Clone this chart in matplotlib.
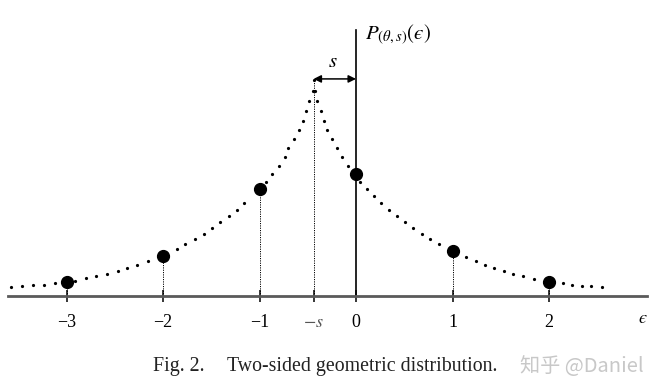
import matplotlib
matplotlib.use("Agg")
import matplotlib.pyplot as plt
import numpy as np

# ---- data ----
eps_int = [-3, -2, -1, 0, 1, 2]
p_int = [0.065, 0.187, 0.494, 0.565, 0.208, 0.066]
s_shift = 0.44
p_peak = 1.0

curve_x = [-3.575, -3.46, -3.35, -3.23, -3.12,
           -2.91, -2.80, -2.69, -2.58, -2.47, -2.37, -2.27, -2.16,
           -1.86, -1.77, -1.67, -1.58, -1.49, -1.41, -1.32, -1.23, -1.16,
           -0.93, -0.87, -0.80, -0.74, -0.70, -0.64, -0.59, -0.55, -0.52, -0.49,
           -0.45, -0.43, -0.44,
           -0.40, -0.36, -0.33, -0.30, -0.25, -0.20, -0.145, -0.085,
           0.044, 0.113, 0.188, 0.263, 0.345, 0.427, 0.505, 0.594, 0.683, 0.771, 0.86,
           1.14, 1.24, 1.34, 1.43, 1.53, 1.63, 1.73, 1.84,
           2.14, 2.24, 2.34, 2.44, 2.55]
curve_y = [0.043, 0.046, 0.049, 0.052, 0.059,
           0.071, 0.082, 0.091, 0.102, 0.116, 0.130, 0.145, 0.162,
           0.219, 0.241, 0.263, 0.287, 0.313, 0.341, 0.369, 0.398, 0.429,
           0.529, 0.566, 0.603, 0.645, 0.684, 0.727, 0.769, 0.812, 0.858, 0.903,
           0.948, 0.948, 1.0,
           0.903, 0.856, 0.810, 0.769, 0.727, 0.684, 0.645, 0.603,
           0.529, 0.495, 0.463, 0.429, 0.397, 0.369, 0.341, 0.313, 0.287, 0.263, 0.239,
           0.179, 0.162, 0.145, 0.131, 0.116, 0.102, 0.091, 0.079,
           0.059, 0.052, 0.048, 0.045, 0.042]

tick_pos = [-3, -2, -1, -s_shift, 0, 1, 2]
tick_labels = ["\u22123", "\u22122", "\u22121", r"$-s$", "0", "1", "2"]

# ---- styling ----
plt.rcParams["font.family"] = ["Liberation Serif", "DejaVu Serif"]
plt.rcParams["mathtext.fontset"] = "stix"

fig = plt.figure(figsize=(6.62, 3.90), dpi=100)
ax = fig.add_axes([0, 0, 1, 1])
ax.set_xlim(-356 / 96.5, (662 - 356) / 96.5)
ax.set_ylim((296 - 390) / 216, 296 / 216)
ax.patch.set_alpha(0)

# axes as spines
for sp in ["top", "right"]:
    ax.spines[sp].set_visible(False)
ax.spines["bottom"].set_position(("data", 0))
ax.spines["bottom"].set_bounds(-3.606, 3.016)
ax.spines["bottom"].set_color("#5a5a5a")
ax.spines["bottom"].set_linewidth(2.0)
ax.spines["left"].set_position(("data", 0))
ax.spines["left"].set_bounds(0, 1.231)
ax.spines["left"].set_color("black")
ax.spines["left"].set_linewidth(1.2)
ax.set_yticks([])

ax.set_xticks(tick_pos)
ax.set_xticklabels(tick_labels)
ax.tick_params(axis="x", direction="inout", length=8.5, width=1.1, color="black",
               pad=9, labelsize=13)
for lbl in ax.get_xticklabels():
    if "s" in lbl.get_text():
        lbl.set_color("#555555")

# dotted curve
ax.plot(curve_x, curve_y, "o", ms=2.3, color="black", mec="none")

# drop lines
for x, y in zip(eps_int, p_int):
    if x != 0:
        ax.plot([x, x], [0, y], color="black", lw=0.7, ls=(0, (1.2, 1.2)))
ax.plot([-s_shift, -s_shift], [0, p_peak], color="black", lw=0.7, ls=(0, (1.2, 1.2)))

# big dots
ax.plot(eps_int, p_int, "o", ms=8.5, color="black", zorder=5)

# arrow for s
ax.annotate("", xy=(0, 1.005), xytext=(-s_shift, 1.005),
            arrowprops=dict(arrowstyle="<|-|>", color="black", lw=1.1,
                            mutation_scale=11, shrinkA=0, shrinkB=0))
ax.text(-0.238, 1.079, r"$s$", fontsize=15, ha="center", va="center")
ax.text(0.093, 1.208, "$P_{(\\theta,s)}(\u03f5)$", fontsize=15, ha="left", va="center")
ax.text(2.974, -0.102, "$\u03f5$", fontsize=13, ha="center", va="center")

# caption and watermark
fig.text(153 / 662, 1 - 367 / 390, "Fig. 2.", fontsize=14.3,
         ha="left", va="center", color="#222222")
fig.text(227 / 662, 1 - 367 / 390, "Two-sided geometric distribution.", fontsize=14.3,
         ha="left", va="center", color="#222222")
fig.text(582 / 662, 1 - 367 / 390, "知乎 @Daniel", fontsize=14.5, ha="center", va="center",
         color="#c8c8c8", family=["Noto Sans CJK SC", "DejaVu Sans"])

fig.savefig("out.png", dpi=100, facecolor="white")
